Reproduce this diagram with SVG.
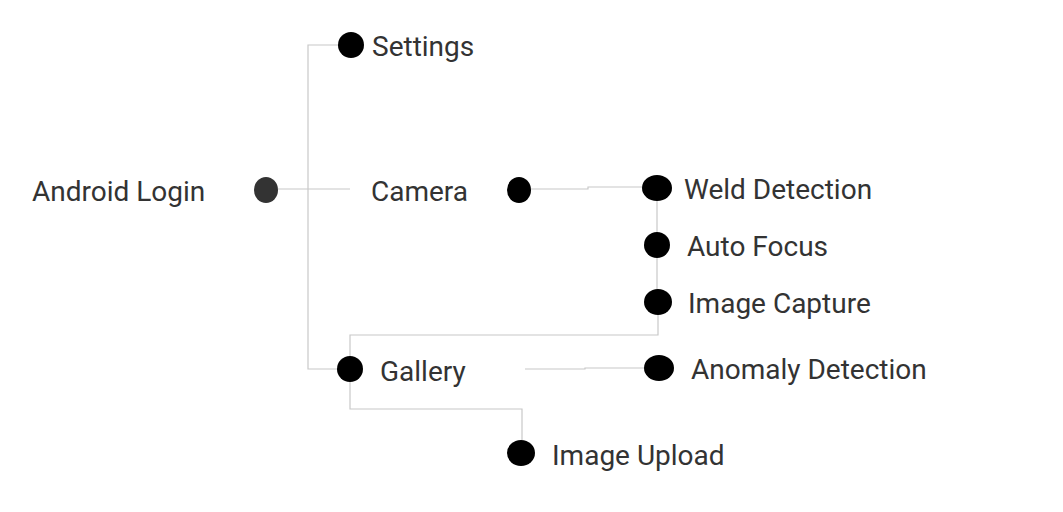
<svg xmlns="http://www.w3.org/2000/svg" width="1063" height="512" viewBox="0 0 1063 512">
<style>
text{font-family:Roboto,"Liberation Sans",sans-serif;font-size:28px;fill:#333}
.l{fill:none;stroke:#c8c8c8;stroke-width:1.2}
.d{fill:#000}
</style>
<rect width="1063" height="512" fill="#fff"/>
<g id="connectors">
<path class="l" d="M278 189H350"/>
<path class="l" d="M340 45H308V369H340"/>
<path class="l" d="M531 189H588V187H645"/>
<path class="l" d="M657 200V233M657 258V290M658 315V335H350V409H522V440"/>
<path class="l" d="M525 369H585V368H645"/>
</g>
<g id="android-login"><ellipse cx="266" cy="190" rx="12" ry="13" fill="#333"/><text x="32" y="201">Android Login</text></g>
<g id="settings"><ellipse class="d" cx="351" cy="45" rx="13" ry="13"/><text x="372" y="56">Settings</text></g>
<g id="camera"><ellipse class="d" cx="519" cy="190" rx="12" ry="13"/><text x="371" y="201">Camera</text></g>
<g id="weld-detection"><ellipse class="d" cx="657" cy="188" rx="15" ry="13"/><text x="684" y="199">Weld Detection</text></g>
<g id="auto-focus"><ellipse class="d" cx="657" cy="245" rx="13" ry="13"/><text x="687" y="256">Auto Focus</text></g>
<g id="image-capture"><ellipse class="d" cx="658" cy="302" rx="14" ry="13"/><text x="688" y="313">Image Capture</text></g>
<g id="gallery"><ellipse class="d" cx="350" cy="369" rx="13" ry="13"/><text x="380" y="381">Gallery</text></g>
<g id="anomaly-detection"><ellipse class="d" cx="659" cy="368" rx="15" ry="13"/><text x="691" y="379">Anomaly Detection</text></g>
<g id="image-upload"><ellipse class="d" cx="521" cy="453" rx="14" ry="13"/><text x="552" y="465">Image Upload</text></g>
</svg>
